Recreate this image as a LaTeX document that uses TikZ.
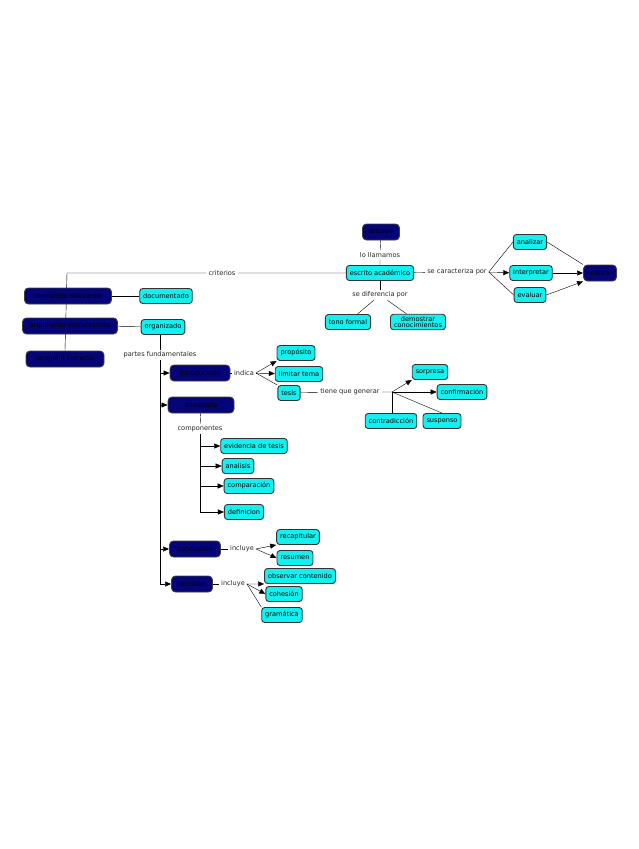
\documentclass[tikz,border=0pt]{standalone}
\usepackage{fontspec}
\setmainfont{DejaVu Sans}
\usetikzlibrary{arrows.meta,backgrounds}
\definecolor{marino}{RGB}{5,5,120}
\definecolor{celeste}{RGB}{20,240,240}
\begin{document}
\begin{tikzpicture}[x=1pt,y=-1pt,line width=1.25pt,
    concepto/.style={draw=black!80,line width=0.9pt,fill=celeste,rounded corners=3pt,
      font=\fontsize{6.6}{7.4}\selectfont,inner xsep=3.5pt,inner ysep=2pt,
      minimum height=15pt,align=center},
    oscuro/.style={draw=black!75,line width=0.9pt,fill=marino,rounded corners=4pt,
      font=\fontsize{6.6}{7.4}\selectfont,text=black,minimum height=16pt},
    enlace/.style={fill=white,font=\fontsize{6.6}{7.4}\selectfont,inner sep=1.5pt,text=black!85},
    flecha/.style={-{Triangle[length=6pt,width=5pt]}}]
  \useasboundingbox (0,0) rectangle (638,849);

  % conceptos principales
  \node[oscuro,minimum width=37pt] (ensayo) at (381,232) {ensayo};
  \node[concepto] (escrito) at (380,273) {escrito académico};
  \node[concepto] (analizar) at (530,242) {analizar};
  \node[concepto] (interpretar) at (531,273) {interpretar};
  \node[concepto] (evaluar) at (530,295) {evaluar};
  \node[oscuro,minimum width=33pt] (critico) at (600,273) {crítico};
  \node[concepto] (tono) at (348,322) {tono formal};
  \node[concepto] (demostrar) at (418,322) {demostrar\\[-1pt]conocimientos};

  % criterios
  \node[oscuro,minimum width=87pt] (contenido) at (68,296) {contenido relevante};
  \node[oscuro,minimum width=95pt] (argumento) at (70,326) {argumento estructurado};
  \node[oscuro,minimum width=78pt] (lenguaje) at (65,359) {lenguaje correcto};
  \node[concepto] (documentado) at (166,296) {documentado};
  \node[concepto] (organizado) at (163,327) {organizado};

  % partes
  \node[oscuro,minimum width=60pt] (intro) at (200,373) {introducción};
  \node[oscuro,minimum width=66pt] (cuerpo) at (201,405) {desarrollo};
  \node[oscuro,minimum width=51pt] (conclusion) at (195,549) {conclusión};
  \node[oscuro,minimum width=41pt] (revision) at (192,584) {revisión};

  \node[concepto] (proposito) at (296,353) {propósito};
  \node[concepto] (limitar) at (299,374) {limitar tema};
  \node[concepto] (tesis) at (289,393) {tesis};
  \node[concepto] (sorpresa) at (430,372) {sorpresa};
  \node[concepto] (confirmacion) at (462,392) {confirmación};
  \node[concepto] (suspenso) at (442,421) {suspenso};
  \node[concepto] (contradiccion) at (391,421) {contradicción};

  \node[concepto] (evidencia) at (254,446) {evidencia de tesis};
  \node[concepto] (analisis) at (238,466) {analisis};
  \node[concepto] (comparacion) at (249,486) {comparación};
  \node[concepto] (definicion) at (244,512) {definicion};

  \node[concepto] (recapitular) at (298,537) {recapitular};
  \node[concepto] (resumen) at (295,558) {resumen};
  \node[concepto] (observar) at (300,576) {observar contenido};
  \node[concepto] (cohesion) at (284,594) {cohesión};
  \node[concepto] (gramatica) at (282,615) {gramática};

  % frases de enlace
  \node[enlace] (llamamos) at (380,255) {lo llamamos};
  \node[enlace] (caracteriza) at (457,272) {se caracteriza por};
  \node[enlace] (diferencia) at (380,295) {se diferencia por};
  \node[enlace] (criterios) at (222,273) {criterios};
  \node[enlace] (partes) at (160,355) {partes fundamentales};
  \node[enlace] (indica) at (244,373) {indica};
  \node[enlace] (generar) at (350,392) {tiene que generar};
  \node[enlace] (componentes) at (200,429) {componentes};
  \node[enlace] (incluye1) at (242,549) {incluye};
  \node[enlace] (incluye2) at (233,584) {incluye};

  \coordinate (esquina) at (67,273);
  \coordinate (cruce) at (392,392);

  \begin{scope}[on background layer]
    \draw (ensayo) -- (llamamos) -- (escrito);
    \draw (escrito) -- (caracteriza);
    \draw (caracteriza.east) -- (analizar.west);
    \draw[flecha] (caracteriza) -- (interpretar);
    \draw (caracteriza.east) -- (evaluar.west);
    \draw (analizar.east) -- (critico.north west);
    \draw[flecha] (interpretar) -- (critico);
    \draw[flecha] (evaluar.east) -- (critico.south west);
    \draw (escrito) -- (diferencia);
    \draw (diferencia) -- (tono);
    \draw (diferencia) -- (demostrar);

    \draw (escrito) -- (criterios) -- (esquina) -- (lenguaje.north);
    \draw (contenido) -- (documentado);
    \draw (argumento) -- (organizado);

    \draw (organizado.south -| partes) -- (partes);
    \draw (partes) -- (partes |- revision);
    \draw[flecha] (partes |- intro) -- (intro);
    \draw[flecha] (partes |- cuerpo) -- (cuerpo);
    \draw[flecha] (partes |- conclusion) -- (conclusion);
    \draw[flecha] (partes |- revision) -- (revision);

    \draw (intro) -- (indica);
    \draw[flecha] (indica.east) -- (proposito.south west);
    \draw[flecha] (indica) -- (limitar);
    \draw (indica.east) -- (tesis.north west);
    \draw (tesis) -- (generar) -- (cruce);
    \draw[flecha] (cruce) -- (sorpresa.south west);
    \draw[flecha] (cruce) -- (confirmacion);
    \draw (cruce) -- (suspenso.north);
    \draw (cruce) -- (contradiccion.north -| cruce);

    \draw (cuerpo) -- (componentes);
    \draw (componentes) -- (componentes |- definicion);
    \draw[flecha] (componentes |- evidencia) -- (evidencia);
    \draw[flecha] (componentes |- analisis) -- (analisis);
    \draw[flecha] (componentes |- comparacion) -- (comparacion);
    \draw[flecha] (componentes |- definicion) -- (definicion);

    \draw (conclusion) -- (incluye1);
    \draw[flecha] (incluye1.east) -- (recapitular.south west);
    \draw[flecha] (incluye1.east) -- (resumen.west);
    \draw (revision) -- (incluye2);
    \draw[flecha] (incluye2.east) -- (observar.south west);
    \draw[flecha] (incluye2.east) -- (cohesion.west);
    \draw (incluye2.east) -- (gramatica.north west);
  \end{scope}
\end{tikzpicture}
\end{document}
